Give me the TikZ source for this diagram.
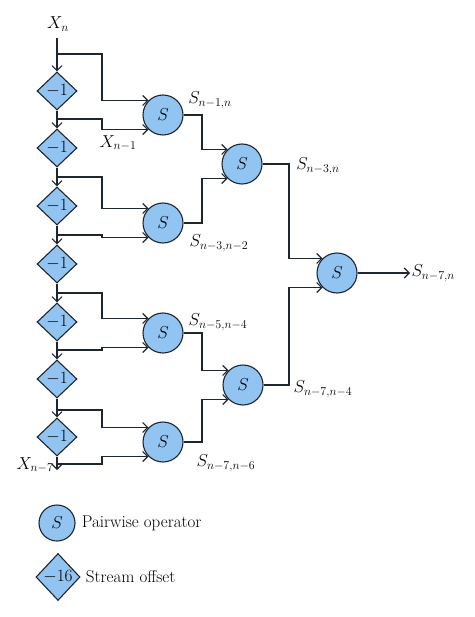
\documentclass[tikz,border=0pt]{standalone}
\usetikzlibrary{shapes.geometric,arrows.meta}
\definecolor{opblue}{RGB}{146,196,242}
\definecolor{edgeline}{RGB}{30,38,48}

\begin{document}
\begin{tikzpicture}[x=1pt, y=-1pt, line width=1.1pt, draw=edgeline,
        font=\fontsize{17}{20}\selectfont,
        op/.style={circle, draw=edgeline, fill=opblue, minimum size=40pt, inner sep=0pt},
        offs/.style={diamond, draw=edgeline, fill=opblue, minimum width=40pt, minimum height=38pt, inner sep=0pt},
        >={Straight Barb[length=5pt, width=10pt]}]
    \useasboundingbox (0,0) rectangle (474,617);

    % stream of offsets
    \coordinate (top) at (57,38);
    \coordinate (bot) at (57,470);
    \node (xn) at (58,24) {$X_n$};
    \foreach \y [count=\i] in {91,148,206,264,322,379,437}
        \node[offs] (D\i) at (57,\y) {$-1$};
    \draw[->] (top) -- (D1.north);
    \foreach \i [count=\j from 2] in {1,...,6}
        \draw[->] (D\i.south) -- (D\j.north);
    \draw[->] (D7.south) -- (bot);
    \node (xn1) at (118,143) {$X_{n-1}$};
    \node (xn7) at (35,465) {$X_{n-7}$};

    % pairwise operators
    \node[op] (S1) at (163,115) {$S$};
    \node[op] (S2) at (163,223) {$S$};
    \node[op] (S3) at (163,333) {$S$};
    \node[op] (S4) at (163,442) {$S$};
    \node[op] (S5) at (242,164) {$S$};
    \node[op] (S6) at (243,385) {$S$};
    \node[op] (S7) at (337,273) {$S$};

    % branch points on the stream
    \coordinate (b1) at (57,54);
    \coordinate (b2) at (57,119);
    \coordinate (b3) at (57,177);
    \coordinate (b4) at (57,235);
    \coordinate (b5) at (57,293);
    \coordinate (b6) at (57,350);
    \coordinate (b7) at (57,410);
    \coordinate (b8) at (57,464);
    \coordinate (k1) at (102,0);
    \coordinate (k2) at (202,0);
    \coordinate (k3) at (289,0);

    \draw[->] (b1) -- (b1 -| k1) |- (S1.135);
    \draw[->] (b2) -- (b2 -| k1) |- (S1.225);
    \draw[->] (b3) -- (b3 -| k1) |- (S2.135);
    \draw[->] (b4) -- (b4 -| k1) |- (S2.225);
    \draw[->] (b5) -- (b5 -| k1) |- (S3.135);
    \draw[->] (b6) -- (b6 -| k1) |- (S3.225);
    \draw[->] (b7) -- (b7 -| k1) |- (S4.135);
    \draw[->] (b8) -- (b8 -| k1) |- (S4.225);

    \draw[->] (S1.east) -- (S1.east -| k2) |- (S5.135);
    \draw[->] (S2.east) -- (S2.east -| k2) |- (S5.225);
    \draw[->] (S3.east) -- (S3.east -| k2) |- (S6.135);
    \draw[->] (S4.east) -- (S4.east -| k2) |- (S6.225);
    \draw[->] (S5.east) -- (S5.east -| k3) |- (S7.135);
    \draw[->] (S6.east) -- (S6.east -| k3) |- (S7.225);

    \coordinate (out) at (410,273);
    \draw[->] (S7.east) -- (out);

    % partial sums
    \node (s12) at (210,100) {$S_{n-1,n}$};
    \node (s34) at (219,243) {$S_{n-3,n-2}$};
    \node (s56) at (218,322) {$S_{n-5,n-4}$};
    \node (s78) at (226,463) {$S_{n-7,n-6}$};
    \node (s14) at (318,166) {$S_{n-3,n}$};
    \node (s58) at (323,389) {$S_{n-7,n-4}$};
    \node[anchor=west, inner sep=1pt] (s18) at (out) {$S_{n-7,n}$};

    % key
    \node[op, minimum size=36pt] (keyS) at (57,523) {$S$};
    \node[anchor=west] (keyStxt) at (78,523) {Pairwise operator};
    \node[offs, minimum width=44pt, minimum height=47pt] (keyD) at (58,577) {$-16$};
    \node[anchor=west] (keyDtxt) at (82,577) {Stream offset};
\end{tikzpicture}
\end{document}
